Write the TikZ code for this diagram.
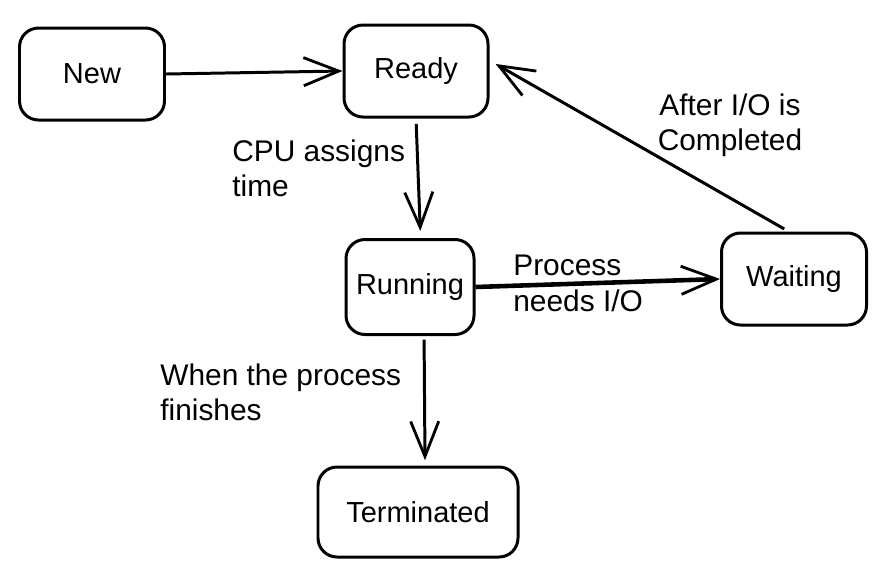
\documentclass[tikz,border=0pt]{standalone}
\usepackage{fontspec}
\setmainfont{Liberation Sans}
\usetikzlibrary{arrows.meta,positioning}

\begin{document}
\begin{tikzpicture}[
    state/.style={draw, line width=1.7pt, rounded corners=0.38cm, minimum width=2.9cm, minimum height=1.84cm, font=\fontsize{16.5}{19}\selectfont},
    arr/.style={line width=1.7pt, -{Straight Barb[length=20pt,width=16pt,line width=1.6pt]}},
    lbl/.style={font=\fontsize{17}{20}\selectfont, inner sep=0pt}
  ]
      \useasboundingbox (0,0) rectangle (17.5,-11.36);
      % States
      \node[state] (new) at (1.84,-1.48) {New};
      \node[state, minimum width=2.88cm] (ready) at (8.32,-1.42) {Ready};
      \node[state, minimum width=2.56cm, minimum height=1.9cm] (running) at (8.2,-5.74) {Running};
      \node[state] (waiting) at (15.88,-5.58) {Waiting};
      \node[state, minimum width=4cm, minimum height=1.8cm] (terminated) at (8.36,-10.24) {Terminated};
      % Transitions
      \draw[arr] (new.east) -- (ready.west);
      \draw[arr, shorten <=3pt, shorten >=4pt] (ready.south) -- ([xshift=6pt]running.north);
      \draw[arr, line width=2.6pt] (running.east) -- (waiting.west);
      \draw[arr, shorten <=3pt, shorten >=4pt] ([xshift=-3pt]waiting.north) -- ([yshift=6pt]ready.east);
      \draw[arr, shorten <=2pt, shorten >=3pt] ([xshift=8pt]running.south) -- ([xshift=4pt]terminated.north);
      % Labels
      \node[lbl, anchor=north west, align=left] (cpu) at (4.64,-2.78) {CPU assigns\\time};
      \node[lbl, anchor=north west, align=left] (needio) at (10.26,-5.1) {Process\\needs I/O};
      \node[lbl, anchor=north, align=center] (iodone) at (14.6,-1.86) {After I/O is\\Completed};
      \node[lbl, anchor=north west, align=left] (finish) at (3.2,-7.26) {When the process\\finishes};
    \end{tikzpicture}
\end{document}
